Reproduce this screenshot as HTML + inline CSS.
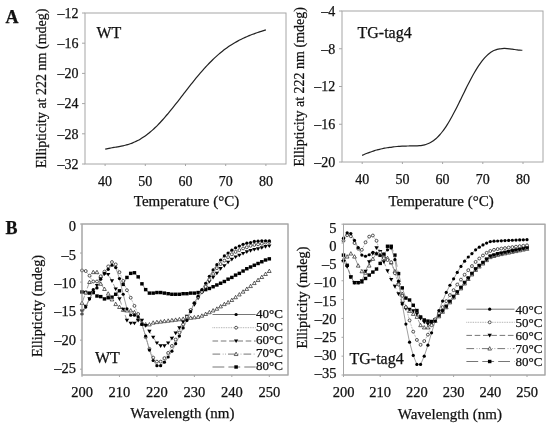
<!DOCTYPE html>
<html><head><meta charset="utf-8"><style>
html,body{margin:0;padding:0;background:#fff;}
svg{display:block;}
text{font-family:"Liberation Serif","Times New Roman",serif;fill:#111;stroke:#111;stroke-width:0.25px;}
.tk{font-size:14px;}
.tk2{font-size:14.5px;}
.lg{font-size:13px;}
.lb{font-size:16px;}
.ax{font-size:15px;}
.ay{font-size:14px;}
.ay2{font-size:14.3px;}
.pl{font-size:18px;font-weight:bold;}
</style></head><body>
<svg width="550" height="426" viewBox="0 0 550 426">
<rect x="85" y="13" width="201" height="151" fill="none" stroke="#a6a6a6" stroke-width="1"/>
<line x1="82" y1="13" x2="85" y2="13" stroke="#a6a6a6"/>
<text x="78.5" y="17.8" class="tk" text-anchor="end">–12</text>
<line x1="82" y1="43.2" x2="85" y2="43.2" stroke="#a6a6a6"/>
<text x="78.5" y="48" class="tk" text-anchor="end">–16</text>
<line x1="82" y1="73.4" x2="85" y2="73.4" stroke="#a6a6a6"/>
<text x="78.5" y="78.2" class="tk" text-anchor="end">–20</text>
<line x1="82" y1="103.6" x2="85" y2="103.6" stroke="#a6a6a6"/>
<text x="78.5" y="108.4" class="tk" text-anchor="end">–24</text>
<line x1="82" y1="133.8" x2="85" y2="133.8" stroke="#a6a6a6"/>
<text x="78.5" y="138.6" class="tk" text-anchor="end">–28</text>
<line x1="82" y1="164" x2="85" y2="164" stroke="#a6a6a6"/>
<text x="78.5" y="168.8" class="tk" text-anchor="end">–32</text>
<line x1="105.1" y1="164" x2="105.1" y2="166" stroke="#a6a6a6"/>
<text x="105.1" y="185.5" class="tk" text-anchor="middle">40</text>
<line x1="145.3" y1="164" x2="145.3" y2="166" stroke="#a6a6a6"/>
<text x="145.3" y="185.5" class="tk" text-anchor="middle">50</text>
<line x1="185.5" y1="164" x2="185.5" y2="166" stroke="#a6a6a6"/>
<text x="185.5" y="185.5" class="tk" text-anchor="middle">60</text>
<line x1="225.7" y1="164" x2="225.7" y2="166" stroke="#a6a6a6"/>
<text x="225.7" y="185.5" class="tk" text-anchor="middle">70</text>
<line x1="265.9" y1="164" x2="265.9" y2="166" stroke="#a6a6a6"/>
<text x="265.9" y="185.5" class="tk" text-anchor="middle">80</text>
<path d="M105.2 149.18C105.62 149.08 106.87 148.78 107.7 148.6C108.53 148.42 109.37 148.25 110.2 148.1C111.03 147.94 111.87 147.81 112.7 147.67C113.53 147.53 114.37 147.39 115.2 147.25C116.03 147.11 116.87 146.98 117.7 146.83C118.53 146.68 119.37 146.53 120.2 146.37C121.03 146.21 121.87 146.03 122.7 145.85C123.53 145.66 124.37 145.47 125.2 145.26C126.03 145.05 126.87 144.82 127.7 144.57C128.53 144.32 129.37 144.05 130.2 143.76C131.03 143.47 131.87 143.17 132.7 142.83C133.53 142.5 134.37 142.13 135.2 141.75C136.03 141.37 136.87 140.96 137.7 140.53C138.53 140.1 139.37 139.64 140.2 139.15C141.03 138.66 141.87 138.15 142.7 137.61C143.53 137.07 144.37 136.5 145.2 135.91C146.03 135.32 146.87 134.7 147.7 134.05C148.53 133.4 149.37 132.73 150.2 132.03C151.03 131.33 151.87 130.61 152.7 129.86C153.53 129.11 154.37 128.33 155.2 127.53C156.03 126.73 156.87 125.91 157.7 125.07C158.53 124.23 159.37 123.36 160.2 122.47C161.03 121.58 161.87 120.67 162.7 119.75C163.53 118.83 164.37 117.88 165.2 116.92C166.03 115.96 166.87 114.98 167.7 113.99C168.53 113 169.37 112 170.2 110.98C171.03 109.96 171.87 108.93 172.7 107.89C173.53 106.85 174.37 105.8 175.2 104.74C176.03 103.68 176.87 102.62 177.7 101.55C178.53 100.48 179.37 99.41 180.2 98.33C181.03 97.25 181.87 96.17 182.7 95.09C183.53 94.01 184.37 92.94 185.2 91.86C186.03 90.78 186.87 89.7 187.7 88.63C188.53 87.56 189.37 86.5 190.2 85.44C191.03 84.38 191.87 83.32 192.7 82.28C193.53 81.24 194.37 80.2 195.2 79.18C196.03 78.16 196.87 77.14 197.7 76.14C198.53 75.14 199.37 74.14 200.2 73.17C201.03 72.2 201.87 71.24 202.7 70.29C203.53 69.34 204.37 68.41 205.2 67.49C206.03 66.57 206.87 65.68 207.7 64.8C208.53 63.92 209.37 63.05 210.2 62.21C211.03 61.37 211.87 60.55 212.7 59.74C213.53 58.93 214.37 58.14 215.2 57.37C216.03 56.6 216.87 55.85 217.7 55.12C218.53 54.39 219.37 53.68 220.2 52.99C221.03 52.3 221.87 51.62 222.7 50.97C223.53 50.32 224.37 49.69 225.2 49.07C226.03 48.45 226.87 47.85 227.7 47.27C228.53 46.69 229.37 46.14 230.2 45.59C231.03 45.05 231.87 44.51 232.7 44C233.53 43.49 234.37 42.99 235.2 42.51C236.03 42.03 236.87 41.57 237.7 41.12C238.53 40.67 239.37 40.22 240.2 39.8C241.03 39.38 241.87 38.97 242.7 38.57C243.53 38.17 244.37 37.78 245.2 37.4C246.03 37.02 246.87 36.66 247.7 36.3C248.53 35.94 249.37 35.6 250.2 35.26C251.03 34.92 251.87 34.59 252.7 34.27C253.53 33.95 254.37 33.63 255.2 33.33C256.03 33.03 256.87 32.74 257.7 32.45C258.53 32.16 259.37 31.88 260.2 31.61C261.03 31.34 261.87 31.08 262.7 30.83C263.53 30.58 264.67 30.26 265.2 30.11C265.73 29.96 265.78 29.95 265.9 29.92" fill="none" stroke="#222" stroke-width="1.2"/>
<text x="96.5" y="37.5" class="lb">WT</text>
<text x="186.5" y="205.8" class="ax" text-anchor="middle">Temperature (°C)</text>
<text transform="translate(45.8,168) rotate(-90)" class="ay">Ellipticity at 222 nm (mdeg)</text>
<text x="5.5" y="23.3" class="pl">A</text>
<rect x="342" y="11" width="201" height="151" fill="none" stroke="#a6a6a6" stroke-width="1"/>
<line x1="339" y1="11" x2="342" y2="11" stroke="#a6a6a6"/>
<text x="335.2" y="15.8" class="tk" text-anchor="end">–4</text>
<line x1="339" y1="48.75" x2="342" y2="48.75" stroke="#a6a6a6"/>
<text x="335.2" y="53.55" class="tk" text-anchor="end">–8</text>
<line x1="339" y1="86.5" x2="342" y2="86.5" stroke="#a6a6a6"/>
<text x="335.2" y="91.3" class="tk" text-anchor="end">–12</text>
<line x1="339" y1="124.25" x2="342" y2="124.25" stroke="#a6a6a6"/>
<text x="335.2" y="129.05" class="tk" text-anchor="end">–16</text>
<line x1="339" y1="162" x2="342" y2="162" stroke="#a6a6a6"/>
<text x="335.2" y="166.8" class="tk" text-anchor="end">–20</text>
<line x1="362.2" y1="162" x2="362.2" y2="164" stroke="#a6a6a6"/>
<text x="362.2" y="183.5" class="tk" text-anchor="middle">40</text>
<line x1="402.4" y1="162" x2="402.4" y2="164" stroke="#a6a6a6"/>
<text x="402.4" y="183.5" class="tk" text-anchor="middle">50</text>
<line x1="442.6" y1="162" x2="442.6" y2="164" stroke="#a6a6a6"/>
<text x="442.6" y="183.5" class="tk" text-anchor="middle">60</text>
<line x1="482.8" y1="162" x2="482.8" y2="164" stroke="#a6a6a6"/>
<text x="482.8" y="183.5" class="tk" text-anchor="middle">70</text>
<line x1="523" y1="162" x2="523" y2="164" stroke="#a6a6a6"/>
<text x="523" y="183.5" class="tk" text-anchor="middle">80</text>
<path d="M362.1 155.4C362.52 155.22 363.77 154.65 364.6 154.29C365.43 153.93 366.27 153.59 367.1 153.26C367.93 152.93 368.77 152.62 369.6 152.32C370.43 152.02 371.27 151.73 372.1 151.45C372.93 151.17 373.77 150.91 374.6 150.66C375.43 150.41 376.27 150.18 377.1 149.95C377.93 149.72 378.77 149.5 379.6 149.3C380.43 149.1 381.27 148.91 382.1 148.73C382.93 148.55 383.77 148.37 384.6 148.21C385.43 148.05 386.27 147.9 387.1 147.76C387.93 147.62 388.77 147.49 389.6 147.37C390.43 147.25 391.27 147.13 392.1 147.03C392.93 146.93 393.77 146.84 394.6 146.75C395.43 146.66 396.27 146.58 397.1 146.51C397.93 146.44 398.77 146.38 399.6 146.32C400.43 146.26 401.27 146.22 402.1 146.18C402.93 146.14 403.77 146.1 404.6 146.07C405.43 146.04 406.27 146.03 407.1 146.01C407.93 145.99 408.77 145.98 409.6 145.97C410.43 145.96 411.27 145.97 412.1 145.97C412.93 145.97 413.77 145.96 414.6 145.95C415.43 145.94 416.27 145.92 417.1 145.88C417.93 145.84 418.77 145.78 419.6 145.7C420.43 145.61 421.27 145.51 422.1 145.37C422.93 145.23 423.77 145.06 424.6 144.84C425.43 144.62 426.27 144.36 427.1 144.05C427.93 143.74 428.77 143.39 429.6 142.97C430.43 142.55 431.27 142.09 432.1 141.55C432.93 141.01 433.77 140.41 434.6 139.75C435.43 139.09 436.27 138.36 437.1 137.56C437.93 136.76 438.77 135.91 439.6 134.98C440.43 134.05 441.27 133.06 442.1 132C442.93 130.94 443.77 129.81 444.6 128.61C445.43 127.41 446.27 126.14 447.1 124.82C447.93 123.5 448.77 122.12 449.6 120.69C450.43 119.26 451.27 117.77 452.1 116.25C452.93 114.73 453.77 113.16 454.6 111.56C455.43 109.96 456.27 108.33 457.1 106.67C457.93 105.02 458.77 103.32 459.6 101.63C460.43 99.94 461.27 98.22 462.1 96.52C462.93 94.81 463.77 93.09 464.6 91.4C465.43 89.71 466.27 88.01 467.1 86.35C467.93 84.69 468.77 83.04 469.6 81.43C470.43 79.82 471.27 78.23 472.1 76.7C472.93 75.17 473.77 73.67 474.6 72.24C475.43 70.8 476.27 69.42 477.1 68.09C477.93 66.77 478.77 65.49 479.6 64.29C480.43 63.09 481.27 61.95 482.1 60.89C482.93 59.83 483.77 58.83 484.6 57.91C485.43 56.99 486.27 56.14 487.1 55.37C487.93 54.6 488.77 53.91 489.6 53.28C490.43 52.65 491.27 52.09 492.1 51.6C492.93 51.11 493.77 50.68 494.6 50.32C495.43 49.96 496.27 49.67 497.1 49.42C497.93 49.17 498.77 48.99 499.6 48.84C500.43 48.69 501.27 48.6 502.1 48.54C502.93 48.48 503.77 48.46 504.6 48.47C505.43 48.48 506.27 48.52 507.1 48.58C507.93 48.64 508.77 48.73 509.6 48.82C510.43 48.91 511.27 49.03 512.1 49.14C512.93 49.25 513.77 49.38 514.6 49.49C515.43 49.61 516.27 49.73 517.1 49.83C517.93 49.93 518.77 50.03 519.6 50.1C520.43 50.17 521.65 50.23 522.1 50.26C522.55 50.29 522.27 50.27 522.3 50.27" fill="none" stroke="#222" stroke-width="1.2"/>
<text x="357.5" y="38.2" class="lb">TG-tag4</text>
<text x="441.1" y="205.5" class="ax" text-anchor="middle">Temperature (°C)</text>
<text transform="translate(303.5,166.5) rotate(-90)" class="ay">Ellipticity at 222 nm (mdeg)</text>
<rect x="82" y="224" width="206" height="151" fill="#fff" stroke="#a6a6a6" stroke-width="1"/>
<line x1="80" y1="224" x2="82" y2="224" stroke="#a6a6a6"/>
<text x="76" y="231.3" class="tk2" text-anchor="end">0</text>
<line x1="80" y1="253.04" x2="82" y2="253.04" stroke="#a6a6a6"/>
<text x="76" y="259.6" class="tk2" text-anchor="end">–5</text>
<line x1="80" y1="282.08" x2="82" y2="282.08" stroke="#a6a6a6"/>
<text x="76" y="287.9" class="tk2" text-anchor="end">–10</text>
<line x1="80" y1="311.12" x2="82" y2="311.12" stroke="#a6a6a6"/>
<text x="76" y="316.2" class="tk2" text-anchor="end">–15</text>
<line x1="80" y1="340.15" x2="82" y2="340.15" stroke="#a6a6a6"/>
<text x="76" y="344.5" class="tk2" text-anchor="end">–20</text>
<line x1="80" y1="369.19" x2="82" y2="369.19" stroke="#a6a6a6"/>
<text x="76" y="372.8" class="tk2" text-anchor="end">–25</text>
<line x1="82" y1="375" x2="82" y2="377" stroke="#a6a6a6"/>
<text x="82" y="396.5" class="tk2" text-anchor="middle">200</text>
<line x1="119.46" y1="375" x2="119.46" y2="377" stroke="#a6a6a6"/>
<text x="119.46" y="396.5" class="tk2" text-anchor="middle">210</text>
<line x1="156.92" y1="375" x2="156.92" y2="377" stroke="#a6a6a6"/>
<text x="156.92" y="396.5" class="tk2" text-anchor="middle">220</text>
<line x1="194.38" y1="375" x2="194.38" y2="377" stroke="#a6a6a6"/>
<text x="194.38" y="396.5" class="tk2" text-anchor="middle">230</text>
<line x1="231.84" y1="375" x2="231.84" y2="377" stroke="#a6a6a6"/>
<text x="231.84" y="396.5" class="tk2" text-anchor="middle">240</text>
<line x1="269.3" y1="375" x2="269.3" y2="377" stroke="#a6a6a6"/>
<text x="269.3" y="396.5" class="tk2" text-anchor="middle">250</text>
<path d="M82 291.95 L85.75 292.53 L89.49 293.11 L93.24 292.53 L96.98 296.02 L100.73 296.6 L104.48 298.92 L108.22 297.76 L111.97 297.18 L115.71 294.27 L119.46 290.79 L123.21 284.4 L126.95 277.43 L130.7 273.37 L134.44 272.78 L138.19 276.85 L141.94 283.82 L145.68 289.63 L149.43 293.11 L153.17 293.11 L156.92 292.53 L160.67 292.53 L164.41 293.11 L168.16 293.69 L171.9 294.27 L175.65 294.27 L179.4 294.27 L183.14 293.69 L186.89 293.69 L190.63 293.11 L194.38 293.11 L198.13 292.53 L201.87 291.37 L205.62 289.63 L209.36 288.47 L213.11 286.72 L216.86 284.98 L220.6 283.24 L224.35 281.5 L228.09 279.17 L231.84 277.43 L235.59 275.11 L239.33 273.37 L243.08 271.04 L246.82 268.72 L250.57 266.98 L254.32 265.23 L258.06 263.49 L261.81 261.75 L265.55 260.01 L269.3 258.85" fill="none" stroke="#777" stroke-width="0.7" stroke-dasharray="11.8,4.1"/>
<g><rect x="80.25" y="290.25" width="3.5" height="3.4"/><rect x="84" y="290.83" width="3.5" height="3.4"/><rect x="87.74" y="291.41" width="3.5" height="3.4"/><rect x="91.49" y="290.83" width="3.5" height="3.4"/><rect x="95.23" y="294.32" width="3.5" height="3.4"/><rect x="98.98" y="294.9" width="3.5" height="3.4"/><rect x="102.73" y="297.22" width="3.5" height="3.4"/><rect x="106.47" y="296.06" width="3.5" height="3.4"/><rect x="110.22" y="295.48" width="3.5" height="3.4"/><rect x="113.96" y="292.57" width="3.5" height="3.4"/><rect x="117.71" y="289.09" width="3.5" height="3.4"/><rect x="121.46" y="282.7" width="3.5" height="3.4"/><rect x="125.2" y="275.73" width="3.5" height="3.4"/><rect x="128.95" y="271.67" width="3.5" height="3.4"/><rect x="132.69" y="271.08" width="3.5" height="3.4"/><rect x="136.44" y="275.15" width="3.5" height="3.4"/><rect x="140.19" y="282.12" width="3.5" height="3.4"/><rect x="143.93" y="287.93" width="3.5" height="3.4"/><rect x="147.68" y="291.41" width="3.5" height="3.4"/><rect x="151.42" y="291.41" width="3.5" height="3.4"/><rect x="155.17" y="290.83" width="3.5" height="3.4"/><rect x="158.92" y="290.83" width="3.5" height="3.4"/><rect x="162.66" y="291.41" width="3.5" height="3.4"/><rect x="166.41" y="291.99" width="3.5" height="3.4"/><rect x="170.15" y="292.57" width="3.5" height="3.4"/><rect x="173.9" y="292.57" width="3.5" height="3.4"/><rect x="177.65" y="292.57" width="3.5" height="3.4"/><rect x="181.39" y="291.99" width="3.5" height="3.4"/><rect x="185.14" y="291.99" width="3.5" height="3.4"/><rect x="188.88" y="291.41" width="3.5" height="3.4"/><rect x="192.63" y="291.41" width="3.5" height="3.4"/><rect x="196.38" y="290.83" width="3.5" height="3.4"/><rect x="200.12" y="289.67" width="3.5" height="3.4"/><rect x="203.87" y="287.93" width="3.5" height="3.4"/><rect x="207.61" y="286.77" width="3.5" height="3.4"/><rect x="211.36" y="285.02" width="3.5" height="3.4"/><rect x="215.11" y="283.28" width="3.5" height="3.4"/><rect x="218.85" y="281.54" width="3.5" height="3.4"/><rect x="222.6" y="279.8" width="3.5" height="3.4"/><rect x="226.34" y="277.47" width="3.5" height="3.4"/><rect x="230.09" y="275.73" width="3.5" height="3.4"/><rect x="233.84" y="273.41" width="3.5" height="3.4"/><rect x="237.58" y="271.67" width="3.5" height="3.4"/><rect x="241.33" y="269.34" width="3.5" height="3.4"/><rect x="245.07" y="267.02" width="3.5" height="3.4"/><rect x="248.82" y="265.28" width="3.5" height="3.4"/><rect x="252.57" y="263.53" width="3.5" height="3.4"/><rect x="256.31" y="261.79" width="3.5" height="3.4"/><rect x="260.06" y="260.05" width="3.5" height="3.4"/><rect x="263.8" y="258.31" width="3.5" height="3.4"/><rect x="267.55" y="257.15" width="3.5" height="3.4"/></g>
<path d="M82 302.98 L85.75 292.53 L89.49 282.08 L93.24 272.2 L96.98 272.2 L100.73 283.82 L104.48 289.05 L108.22 293.69 L111.97 299.5 L115.71 304.15 L119.46 307.05 L123.21 309.95 L126.95 310.53 L130.7 310.53 L134.44 312.28 L138.19 318.67 L141.94 323.89 L145.68 324.47 L149.43 324.47 L153.17 322.73 L156.92 322.15 L160.67 321.69 L164.41 321.22 L168.16 320.76 L171.9 320.29 L175.65 319.83 L179.4 319.34 L183.14 318.86 L186.89 318.38 L190.63 317.89 L194.38 317.41 L198.13 316.92 L201.87 315.76 L205.62 314.02 L209.36 312.28 L213.11 310.53 L216.86 308.79 L220.6 306.47 L224.35 304.15 L228.09 302.4 L231.84 300.08 L235.59 297.29 L239.33 294.51 L243.08 291.72 L246.82 288.93 L250.57 286.14 L254.32 283.12 L258.06 280.1 L261.81 277.08 L265.55 274.06 L269.3 271.04" fill="none" stroke="#777" stroke-width="0.7" stroke-dasharray="7.7,2.6,0.6,1.8,0.6,2.2"/>
<g><path d="M80.15 304.43H83.85L82 301.03Z" fill="#fff" stroke="#111" stroke-width="0.65"/><path d="M83.9 293.98H87.6L85.75 290.58Z" fill="#fff" stroke="#111" stroke-width="0.65"/><path d="M87.64 283.53H91.34L89.49 280.13Z" fill="#fff" stroke="#111" stroke-width="0.65"/><path d="M91.39 273.65H95.09L93.24 270.25Z" fill="#fff" stroke="#111" stroke-width="0.65"/><path d="M95.13 273.65H98.83L96.98 270.25Z" fill="#fff" stroke="#111" stroke-width="0.65"/><path d="M98.88 285.27H102.58L100.73 281.87Z" fill="#fff" stroke="#111" stroke-width="0.65"/><path d="M102.63 290.5H106.33L104.48 287.1Z" fill="#fff" stroke="#111" stroke-width="0.65"/><path d="M106.37 295.14H110.07L108.22 291.74Z" fill="#fff" stroke="#111" stroke-width="0.65"/><path d="M110.12 300.95H113.82L111.97 297.55Z" fill="#fff" stroke="#111" stroke-width="0.65"/><path d="M113.86 305.6H117.56L115.71 302.2Z" fill="#fff" stroke="#111" stroke-width="0.65"/><path d="M117.61 308.5H121.31L119.46 305.1Z" fill="#fff" stroke="#111" stroke-width="0.65"/><path d="M121.36 311.4H125.06L123.21 308Z" fill="#fff" stroke="#111" stroke-width="0.65"/><path d="M125.1 311.98H128.8L126.95 308.58Z" fill="#fff" stroke="#111" stroke-width="0.65"/><path d="M128.85 311.98H132.55L130.7 308.58Z" fill="#fff" stroke="#111" stroke-width="0.65"/><path d="M132.59 313.73H136.29L134.44 310.33Z" fill="#fff" stroke="#111" stroke-width="0.65"/><path d="M136.34 320.12H140.04L138.19 316.72Z" fill="#fff" stroke="#111" stroke-width="0.65"/><path d="M140.09 325.34H143.79L141.94 321.94Z" fill="#fff" stroke="#111" stroke-width="0.65"/><path d="M143.83 325.92H147.53L145.68 322.52Z" fill="#fff" stroke="#111" stroke-width="0.65"/><path d="M147.58 325.92H151.28L149.43 322.52Z" fill="#fff" stroke="#111" stroke-width="0.65"/><path d="M151.32 324.18H155.02L153.17 320.78Z" fill="#fff" stroke="#111" stroke-width="0.65"/><path d="M155.07 323.6H158.77L156.92 320.2Z" fill="#fff" stroke="#111" stroke-width="0.65"/><path d="M158.82 323.14H162.52L160.67 319.74Z" fill="#fff" stroke="#111" stroke-width="0.65"/><path d="M162.56 322.67H166.26L164.41 319.27Z" fill="#fff" stroke="#111" stroke-width="0.65"/><path d="M166.31 322.21H170.01L168.16 318.81Z" fill="#fff" stroke="#111" stroke-width="0.65"/><path d="M170.05 321.74H173.75L171.9 318.34Z" fill="#fff" stroke="#111" stroke-width="0.65"/><path d="M173.8 321.28H177.5L175.65 317.88Z" fill="#fff" stroke="#111" stroke-width="0.65"/><path d="M177.55 320.79H181.25L179.4 317.39Z" fill="#fff" stroke="#111" stroke-width="0.65"/><path d="M181.29 320.31H184.99L183.14 316.91Z" fill="#fff" stroke="#111" stroke-width="0.65"/><path d="M185.04 319.82H188.74L186.89 316.43Z" fill="#fff" stroke="#111" stroke-width="0.65"/><path d="M188.78 319.34H192.48L190.63 315.94Z" fill="#fff" stroke="#111" stroke-width="0.65"/><path d="M192.53 318.86H196.23L194.38 315.46Z" fill="#fff" stroke="#111" stroke-width="0.65"/><path d="M196.28 318.37H199.98L198.13 314.97Z" fill="#fff" stroke="#111" stroke-width="0.65"/><path d="M200.02 317.21H203.72L201.87 313.81Z" fill="#fff" stroke="#111" stroke-width="0.65"/><path d="M203.77 315.47H207.47L205.62 312.07Z" fill="#fff" stroke="#111" stroke-width="0.65"/><path d="M207.51 313.73H211.21L209.36 310.33Z" fill="#fff" stroke="#111" stroke-width="0.65"/><path d="M211.26 311.98H214.96L213.11 308.58Z" fill="#fff" stroke="#111" stroke-width="0.65"/><path d="M215.01 310.24H218.71L216.86 306.84Z" fill="#fff" stroke="#111" stroke-width="0.65"/><path d="M218.75 307.92H222.45L220.6 304.52Z" fill="#fff" stroke="#111" stroke-width="0.65"/><path d="M222.5 305.6H226.2L224.35 302.2Z" fill="#fff" stroke="#111" stroke-width="0.65"/><path d="M226.24 303.85H229.94L228.09 300.45Z" fill="#fff" stroke="#111" stroke-width="0.65"/><path d="M229.99 301.53H233.69L231.84 298.13Z" fill="#fff" stroke="#111" stroke-width="0.65"/><path d="M233.74 298.74H237.44L235.59 295.34Z" fill="#fff" stroke="#111" stroke-width="0.65"/><path d="M237.48 295.96H241.18L239.33 292.56Z" fill="#fff" stroke="#111" stroke-width="0.65"/><path d="M241.23 293.17H244.93L243.08 289.77Z" fill="#fff" stroke="#111" stroke-width="0.65"/><path d="M244.97 290.38H248.67L246.82 286.98Z" fill="#fff" stroke="#111" stroke-width="0.65"/><path d="M248.72 287.59H252.42L250.57 284.19Z" fill="#fff" stroke="#111" stroke-width="0.65"/><path d="M252.47 284.57H256.17L254.32 281.17Z" fill="#fff" stroke="#111" stroke-width="0.65"/><path d="M256.21 281.55H259.91L258.06 278.15Z" fill="#fff" stroke="#111" stroke-width="0.65"/><path d="M259.96 278.53H263.66L261.81 275.13Z" fill="#fff" stroke="#111" stroke-width="0.65"/><path d="M263.7 275.51H267.4L265.55 272.11Z" fill="#fff" stroke="#111" stroke-width="0.65"/><path d="M267.45 272.49H271.15L269.3 269.09Z" fill="#fff" stroke="#111" stroke-width="0.65"/></g>
<path d="M82 311.12 L85.75 306.47 L89.49 298.92 L93.24 292.53 L96.98 285.56 L100.73 278.59 L104.48 273.95 L108.22 274.53 L111.97 280.92 L115.71 289.05 L119.46 298.92 L123.21 309.37 L126.95 320.41 L130.7 323.31 L134.44 323.31 L138.19 320.41 L141.94 320.41 L145.68 325.63 L149.43 331.44 L153.17 337.25 L156.92 343.06 L160.67 345.96 L164.41 345.96 L168.16 343.06 L171.9 338.41 L175.65 333.18 L179.4 327.96 L183.14 322.15 L186.89 316.34 L190.63 310.53 L194.38 304.73 L198.13 298.34 L201.87 292.53 L205.62 287.3 L209.36 281.5 L213.11 277.43 L216.86 273.37 L220.6 268.72 L224.35 265.82 L228.09 262.33 L231.84 259.43 L235.59 257.1 L239.33 255.36 L243.08 253.62 L246.82 251.88 L250.57 250.72 L254.32 249.55 L258.06 248.97 L261.81 247.81 L265.55 246.65 L269.3 246.07" fill="none" stroke="#777" stroke-width="0.7" stroke-dasharray="5.6,2.7"/>
<g><path d="M79.85 309.52H84.15L82 313.12Z"/><path d="M83.6 304.87H87.9L85.75 308.47Z"/><path d="M87.34 297.32H91.64L89.49 300.92Z"/><path d="M91.09 290.93H95.39L93.24 294.53Z"/><path d="M94.83 283.96H99.13L96.98 287.56Z"/><path d="M98.58 276.99H102.88L100.73 280.59Z"/><path d="M102.33 272.35H106.63L104.48 275.95Z"/><path d="M106.07 272.93H110.37L108.22 276.53Z"/><path d="M109.82 279.32H114.12L111.97 282.92Z"/><path d="M113.56 287.45H117.86L115.71 291.05Z"/><path d="M117.31 297.32H121.61L119.46 300.92Z"/><path d="M121.06 307.77H125.36L123.21 311.37Z"/><path d="M124.8 318.81H129.1L126.95 322.41Z"/><path d="M128.55 321.71H132.85L130.7 325.31Z"/><path d="M132.29 321.71H136.59L134.44 325.31Z"/><path d="M136.04 318.81H140.34L138.19 322.41Z"/><path d="M139.79 318.81H144.09L141.94 322.41Z"/><path d="M143.53 324.03H147.83L145.68 327.63Z"/><path d="M147.28 329.84H151.58L149.43 333.44Z"/><path d="M151.02 335.65H155.32L153.17 339.25Z"/><path d="M154.77 341.46H159.07L156.92 345.06Z"/><path d="M158.52 344.36H162.82L160.67 347.96Z"/><path d="M162.26 344.36H166.56L164.41 347.96Z"/><path d="M166.01 341.46H170.31L168.16 345.06Z"/><path d="M169.75 336.81H174.05L171.9 340.41Z"/><path d="M173.5 331.58H177.8L175.65 335.18Z"/><path d="M177.25 326.36H181.55L179.4 329.96Z"/><path d="M180.99 320.55H185.29L183.14 324.15Z"/><path d="M184.74 314.74H189.04L186.89 318.34Z"/><path d="M188.48 308.93H192.78L190.63 312.53Z"/><path d="M192.23 303.13H196.53L194.38 306.73Z"/><path d="M195.98 296.74H200.28L198.13 300.34Z"/><path d="M199.72 290.93H204.02L201.87 294.53Z"/><path d="M203.47 285.7H207.77L205.62 289.3Z"/><path d="M207.21 279.9H211.51L209.36 283.5Z"/><path d="M210.96 275.83H215.26L213.11 279.43Z"/><path d="M214.71 271.77H219.01L216.86 275.37Z"/><path d="M218.45 267.12H222.75L220.6 270.72Z"/><path d="M222.2 264.22H226.5L224.35 267.82Z"/><path d="M225.94 260.73H230.24L228.09 264.33Z"/><path d="M229.69 257.83H233.99L231.84 261.43Z"/><path d="M233.44 255.5H237.74L235.59 259.1Z"/><path d="M237.18 253.76H241.48L239.33 257.36Z"/><path d="M240.93 252.02H245.23L243.08 255.62Z"/><path d="M244.67 250.28H248.97L246.82 253.88Z"/><path d="M248.42 249.12H252.72L250.57 252.72Z"/><path d="M252.17 247.95H256.47L254.32 251.55Z"/><path d="M255.91 247.37H260.21L258.06 250.97Z"/><path d="M259.66 246.21H263.96L261.81 249.81Z"/><path d="M263.4 245.05H267.7L265.55 248.65Z"/><path d="M267.15 244.47H271.45L269.3 248.07Z"/></g>
<path d="M82 270.46 L85.75 271.04 L89.49 275.69 L93.24 281.5 L96.98 281.5 L100.73 276.27 L104.48 271.62 L108.22 266.4 L111.97 262.04 L115.71 264.36 L119.46 272.2 L123.21 280.92 L126.95 290.21 L130.7 297.76 L134.44 305.89 L138.19 314.02 L141.94 323.89 L145.68 337.25 L149.43 348.87 L153.17 357.58 L156.92 361.64 L160.67 361.64 L164.41 358.16 L168.16 352.93 L171.9 345.96 L175.65 339.57 L179.4 332.6 L183.14 324.47 L186.89 316.92 L190.63 309.95 L194.38 302.98 L198.13 297.18 L201.87 291.95 L205.62 286.72 L209.36 279.75 L213.11 273.95 L216.86 268.14 L220.6 264.07 L224.35 260.59 L228.09 257.1 L231.84 254.2 L235.59 251.88 L239.33 250.13 L243.08 248.39 L246.82 247.23 L250.57 245.78 L254.32 244.91 L258.06 244.33 L261.81 243.75 L265.55 242.58 L269.3 242" fill="none" stroke="#777" stroke-width="0.7" stroke-dasharray="0.8,0.9"/>
<g><circle cx="82" cy="270.46" r="1.45" fill="#fff" stroke="#111" stroke-width="0.7"/><circle cx="85.75" cy="271.04" r="1.45" fill="#fff" stroke="#111" stroke-width="0.7"/><circle cx="89.49" cy="275.69" r="1.45" fill="#fff" stroke="#111" stroke-width="0.7"/><circle cx="93.24" cy="281.5" r="1.45" fill="#fff" stroke="#111" stroke-width="0.7"/><circle cx="96.98" cy="281.5" r="1.45" fill="#fff" stroke="#111" stroke-width="0.7"/><circle cx="100.73" cy="276.27" r="1.45" fill="#fff" stroke="#111" stroke-width="0.7"/><circle cx="104.48" cy="271.62" r="1.45" fill="#fff" stroke="#111" stroke-width="0.7"/><circle cx="108.22" cy="266.4" r="1.45" fill="#fff" stroke="#111" stroke-width="0.7"/><circle cx="111.97" cy="262.04" r="1.45" fill="#fff" stroke="#111" stroke-width="0.7"/><circle cx="115.71" cy="264.36" r="1.45" fill="#fff" stroke="#111" stroke-width="0.7"/><circle cx="119.46" cy="272.2" r="1.45" fill="#fff" stroke="#111" stroke-width="0.7"/><circle cx="123.21" cy="280.92" r="1.45" fill="#fff" stroke="#111" stroke-width="0.7"/><circle cx="126.95" cy="290.21" r="1.45" fill="#fff" stroke="#111" stroke-width="0.7"/><circle cx="130.7" cy="297.76" r="1.45" fill="#fff" stroke="#111" stroke-width="0.7"/><circle cx="134.44" cy="305.89" r="1.45" fill="#fff" stroke="#111" stroke-width="0.7"/><circle cx="138.19" cy="314.02" r="1.45" fill="#fff" stroke="#111" stroke-width="0.7"/><circle cx="141.94" cy="323.89" r="1.45" fill="#fff" stroke="#111" stroke-width="0.7"/><circle cx="145.68" cy="337.25" r="1.45" fill="#fff" stroke="#111" stroke-width="0.7"/><circle cx="149.43" cy="348.87" r="1.45" fill="#fff" stroke="#111" stroke-width="0.7"/><circle cx="153.17" cy="357.58" r="1.45" fill="#fff" stroke="#111" stroke-width="0.7"/><circle cx="156.92" cy="361.64" r="1.45" fill="#fff" stroke="#111" stroke-width="0.7"/><circle cx="160.67" cy="361.64" r="1.45" fill="#fff" stroke="#111" stroke-width="0.7"/><circle cx="164.41" cy="358.16" r="1.45" fill="#fff" stroke="#111" stroke-width="0.7"/><circle cx="168.16" cy="352.93" r="1.45" fill="#fff" stroke="#111" stroke-width="0.7"/><circle cx="171.9" cy="345.96" r="1.45" fill="#fff" stroke="#111" stroke-width="0.7"/><circle cx="175.65" cy="339.57" r="1.45" fill="#fff" stroke="#111" stroke-width="0.7"/><circle cx="179.4" cy="332.6" r="1.45" fill="#fff" stroke="#111" stroke-width="0.7"/><circle cx="183.14" cy="324.47" r="1.45" fill="#fff" stroke="#111" stroke-width="0.7"/><circle cx="186.89" cy="316.92" r="1.45" fill="#fff" stroke="#111" stroke-width="0.7"/><circle cx="190.63" cy="309.95" r="1.45" fill="#fff" stroke="#111" stroke-width="0.7"/><circle cx="194.38" cy="302.98" r="1.45" fill="#fff" stroke="#111" stroke-width="0.7"/><circle cx="198.13" cy="297.18" r="1.45" fill="#fff" stroke="#111" stroke-width="0.7"/><circle cx="201.87" cy="291.95" r="1.45" fill="#fff" stroke="#111" stroke-width="0.7"/><circle cx="205.62" cy="286.72" r="1.45" fill="#fff" stroke="#111" stroke-width="0.7"/><circle cx="209.36" cy="279.75" r="1.45" fill="#fff" stroke="#111" stroke-width="0.7"/><circle cx="213.11" cy="273.95" r="1.45" fill="#fff" stroke="#111" stroke-width="0.7"/><circle cx="216.86" cy="268.14" r="1.45" fill="#fff" stroke="#111" stroke-width="0.7"/><circle cx="220.6" cy="264.07" r="1.45" fill="#fff" stroke="#111" stroke-width="0.7"/><circle cx="224.35" cy="260.59" r="1.45" fill="#fff" stroke="#111" stroke-width="0.7"/><circle cx="228.09" cy="257.1" r="1.45" fill="#fff" stroke="#111" stroke-width="0.7"/><circle cx="231.84" cy="254.2" r="1.45" fill="#fff" stroke="#111" stroke-width="0.7"/><circle cx="235.59" cy="251.88" r="1.45" fill="#fff" stroke="#111" stroke-width="0.7"/><circle cx="239.33" cy="250.13" r="1.45" fill="#fff" stroke="#111" stroke-width="0.7"/><circle cx="243.08" cy="248.39" r="1.45" fill="#fff" stroke="#111" stroke-width="0.7"/><circle cx="246.82" cy="247.23" r="1.45" fill="#fff" stroke="#111" stroke-width="0.7"/><circle cx="250.57" cy="245.78" r="1.45" fill="#fff" stroke="#111" stroke-width="0.7"/><circle cx="254.32" cy="244.91" r="1.45" fill="#fff" stroke="#111" stroke-width="0.7"/><circle cx="258.06" cy="244.33" r="1.45" fill="#fff" stroke="#111" stroke-width="0.7"/><circle cx="261.81" cy="243.75" r="1.45" fill="#fff" stroke="#111" stroke-width="0.7"/><circle cx="265.55" cy="242.58" r="1.45" fill="#fff" stroke="#111" stroke-width="0.7"/><circle cx="269.3" cy="242" r="1.45" fill="#fff" stroke="#111" stroke-width="0.7"/></g>
<path d="M82 314.02 L85.75 307.05 L89.49 298.92 L93.24 289.63 L96.98 287.88 L100.73 279.17 L104.48 273.37 L108.22 269.3 L111.97 265.23 L115.71 267.56 L119.46 278.59 L123.21 294.27 L126.95 308.79 L130.7 315.18 L134.44 315.18 L138.19 316.92 L141.94 324.47 L145.68 336.09 L149.43 350.03 L153.17 360.48 L156.92 365.71 L160.67 365.71 L164.41 362.22 L168.16 357 L171.9 351.19 L175.65 343.64 L179.4 336.09 L183.14 327.96 L186.89 320.41 L190.63 311.7 L194.38 302.98 L198.13 296.02 L201.87 289.63 L205.62 283.24 L209.36 276.27 L213.11 269.88 L216.86 264.65 L220.6 260.01 L224.35 255.94 L228.09 253.04 L231.84 250.13 L235.59 247.81 L239.33 246.07 L243.08 244.33 L246.82 243.17 L250.57 242.58 L254.32 241.42 L258.06 241.19 L261.81 240.84 L265.55 240.84 L269.3 240.84" fill="none" stroke="#777" stroke-width="0.7"/>
<g><circle cx="82" cy="314.02" r="1.6"/><circle cx="85.75" cy="307.05" r="1.6"/><circle cx="89.49" cy="298.92" r="1.6"/><circle cx="93.24" cy="289.63" r="1.6"/><circle cx="96.98" cy="287.88" r="1.6"/><circle cx="100.73" cy="279.17" r="1.6"/><circle cx="104.48" cy="273.37" r="1.6"/><circle cx="108.22" cy="269.3" r="1.6"/><circle cx="111.97" cy="265.23" r="1.6"/><circle cx="115.71" cy="267.56" r="1.6"/><circle cx="119.46" cy="278.59" r="1.6"/><circle cx="123.21" cy="294.27" r="1.6"/><circle cx="126.95" cy="308.79" r="1.6"/><circle cx="130.7" cy="315.18" r="1.6"/><circle cx="134.44" cy="315.18" r="1.6"/><circle cx="138.19" cy="316.92" r="1.6"/><circle cx="141.94" cy="324.47" r="1.6"/><circle cx="145.68" cy="336.09" r="1.6"/><circle cx="149.43" cy="350.03" r="1.6"/><circle cx="153.17" cy="360.48" r="1.6"/><circle cx="156.92" cy="365.71" r="1.6"/><circle cx="160.67" cy="365.71" r="1.6"/><circle cx="164.41" cy="362.22" r="1.6"/><circle cx="168.16" cy="357" r="1.6"/><circle cx="171.9" cy="351.19" r="1.6"/><circle cx="175.65" cy="343.64" r="1.6"/><circle cx="179.4" cy="336.09" r="1.6"/><circle cx="183.14" cy="327.96" r="1.6"/><circle cx="186.89" cy="320.41" r="1.6"/><circle cx="190.63" cy="311.7" r="1.6"/><circle cx="194.38" cy="302.98" r="1.6"/><circle cx="198.13" cy="296.02" r="1.6"/><circle cx="201.87" cy="289.63" r="1.6"/><circle cx="205.62" cy="283.24" r="1.6"/><circle cx="209.36" cy="276.27" r="1.6"/><circle cx="213.11" cy="269.88" r="1.6"/><circle cx="216.86" cy="264.65" r="1.6"/><circle cx="220.6" cy="260.01" r="1.6"/><circle cx="224.35" cy="255.94" r="1.6"/><circle cx="228.09" cy="253.04" r="1.6"/><circle cx="231.84" cy="250.13" r="1.6"/><circle cx="235.59" cy="247.81" r="1.6"/><circle cx="239.33" cy="246.07" r="1.6"/><circle cx="243.08" cy="244.33" r="1.6"/><circle cx="246.82" cy="243.17" r="1.6"/><circle cx="250.57" cy="242.58" r="1.6"/><circle cx="254.32" cy="241.42" r="1.6"/><circle cx="258.06" cy="241.19" r="1.6"/><circle cx="261.81" cy="240.84" r="1.6"/><circle cx="265.55" cy="240.84" r="1.6"/><circle cx="269.3" cy="240.84" r="1.6"/></g>
<rect x="82" y="224" width="206" height="151" fill="none" stroke="#a6a6a6" stroke-width="1"/>
<line x1="212.5" y1="314.5" x2="255.7" y2="314.5" stroke="#666" stroke-width="0.9"/>
<circle cx="236.1" cy="314.5" r="1.6"/>
<text x="256" y="317.8" class="lg">40°C</text>
<line x1="212.5" y1="327.7" x2="255.7" y2="327.7" stroke="#999" stroke-width="0.9" stroke-dasharray="0.8,0.9"/>
<circle cx="236.1" cy="327.7" r="1.45" fill="#fff" stroke="#111" stroke-width="0.7"/>
<text x="256" y="331" class="lg">50°C</text>
<line x1="212.5" y1="341.0" x2="255.7" y2="341.0" stroke="#666" stroke-width="0.9" stroke-dasharray="5.6,2.7"/>
<path d="M233.95 339.4H238.25L236.1 343Z"/>
<text x="256" y="344.3" class="lg">60°C</text>
<line x1="212.5" y1="354.1" x2="255.7" y2="354.1" stroke="#666" stroke-width="0.9" stroke-dasharray="7.7,2.6,0.6,1.8,0.6,2.2"/>
<path d="M234.25 355.55H237.95L236.1 352.15Z" fill="#fff" stroke="#111" stroke-width="0.65"/>
<text x="256" y="357.4" class="lg">70°C</text>
<line x1="212.5" y1="367.0" x2="255.7" y2="367.0" stroke="#666" stroke-width="0.9" stroke-dasharray="11.8,4.1"/>
<rect x="234.35" y="365.3" width="3.5" height="3.4"/>
<text x="256" y="370.3" class="lg">80°C</text>
<text x="95" y="363" class="lb">WT</text>
<text x="182.3" y="418" class="ax" text-anchor="middle">Wavelength (nm)</text>
<text transform="translate(41.7,357) rotate(-90)" class="ay2">Ellipticity (mdeg)</text>
<text x="5.5" y="233.5" class="pl">B</text>
<rect x="343.5" y="224.2" width="201.5" height="150.8" fill="#fff" stroke="#a6a6a6" stroke-width="1"/>
<line x1="341.5" y1="224.2" x2="343.5" y2="224.2" stroke="#a6a6a6"/>
<text x="336.5" y="233.1" class="tk2" text-anchor="end">5</text>
<line x1="341.5" y1="243.05" x2="343.5" y2="243.05" stroke="#a6a6a6"/>
<text x="336.5" y="251.22" class="tk2" text-anchor="end">0</text>
<line x1="341.5" y1="261.9" x2="343.5" y2="261.9" stroke="#a6a6a6"/>
<text x="336.5" y="269.34" class="tk2" text-anchor="end">–5</text>
<line x1="341.5" y1="280.75" x2="343.5" y2="280.75" stroke="#a6a6a6"/>
<text x="336.5" y="287.46" class="tk2" text-anchor="end">–10</text>
<line x1="341.5" y1="299.6" x2="343.5" y2="299.6" stroke="#a6a6a6"/>
<text x="336.5" y="305.58" class="tk2" text-anchor="end">–15</text>
<line x1="341.5" y1="318.45" x2="343.5" y2="318.45" stroke="#a6a6a6"/>
<text x="336.5" y="323.7" class="tk2" text-anchor="end">–20</text>
<line x1="341.5" y1="337.3" x2="343.5" y2="337.3" stroke="#a6a6a6"/>
<text x="336.5" y="341.82" class="tk2" text-anchor="end">–25</text>
<line x1="341.5" y1="356.15" x2="343.5" y2="356.15" stroke="#a6a6a6"/>
<text x="336.5" y="359.94" class="tk2" text-anchor="end">–30</text>
<line x1="341.5" y1="375" x2="343.5" y2="375" stroke="#a6a6a6"/>
<text x="336.5" y="378.06" class="tk2" text-anchor="end">–35</text>
<line x1="343.5" y1="375" x2="343.5" y2="377" stroke="#a6a6a6"/>
<text x="343.5" y="397.3" class="tk2" text-anchor="middle">200</text>
<line x1="380.2" y1="375" x2="380.2" y2="377" stroke="#a6a6a6"/>
<text x="380.2" y="397.3" class="tk2" text-anchor="middle">210</text>
<line x1="416.9" y1="375" x2="416.9" y2="377" stroke="#a6a6a6"/>
<text x="416.9" y="397.3" class="tk2" text-anchor="middle">220</text>
<line x1="453.6" y1="375" x2="453.6" y2="377" stroke="#a6a6a6"/>
<text x="453.6" y="397.3" class="tk2" text-anchor="middle">230</text>
<line x1="490.3" y1="375" x2="490.3" y2="377" stroke="#a6a6a6"/>
<text x="490.3" y="397.3" class="tk2" text-anchor="middle">240</text>
<line x1="527" y1="375" x2="527" y2="377" stroke="#a6a6a6"/>
<text x="527" y="397.3" class="tk2" text-anchor="middle">250</text>
<path d="M343.5 255.11 L347.17 265.29 L350.84 276.98 L354.51 282.63 L358.18 282.63 L361.85 281.88 L365.52 278.49 L369.19 275.09 L372.86 272.08 L376.53 269.06 L380.2 263.41 L383.87 254.36 L387.54 246.25 L391.21 246.25 L394.88 255.11 L398.55 273.59 L402.22 287.91 L405.89 298.09 L409.56 299.98 L413.23 305.25 L416.9 310.53 L420.57 316.94 L424.24 319.96 L427.91 321.09 L431.58 321.47 L435.25 319.77 L438.92 315.25 L442.59 310.72 L446.26 306.2 L449.93 301.3 L453.6 296.4 L457.27 291.87 L460.94 287.35 L464.61 282.45 L468.28 277.92 L471.95 273.4 L475.62 268.87 L479.29 265.48 L482.96 262.47 L486.63 259.07 L490.3 256.06 L493.97 254.93 L497.64 253.79 L501.31 253.04 L504.98 252.29 L508.65 251.53 L512.32 250.78 L515.99 250.02 L519.66 249.27 L523.33 248.52 L527 247.76" fill="none" stroke="#777" stroke-width="0.7" stroke-dasharray="11.8,4.1"/>
<g><rect x="341.75" y="253.41" width="3.5" height="3.4"/><rect x="345.42" y="263.59" width="3.5" height="3.4"/><rect x="349.09" y="275.28" width="3.5" height="3.4"/><rect x="352.76" y="280.94" width="3.5" height="3.4"/><rect x="356.43" y="280.94" width="3.5" height="3.4"/><rect x="360.1" y="280.18" width="3.5" height="3.4"/><rect x="363.77" y="276.79" width="3.5" height="3.4"/><rect x="367.44" y="273.39" width="3.5" height="3.4"/><rect x="371.11" y="270.38" width="3.5" height="3.4"/><rect x="374.78" y="267.36" width="3.5" height="3.4"/><rect x="378.45" y="261.71" width="3.5" height="3.4"/><rect x="382.12" y="252.66" width="3.5" height="3.4"/><rect x="385.79" y="244.55" width="3.5" height="3.4"/><rect x="389.46" y="244.55" width="3.5" height="3.4"/><rect x="393.13" y="253.41" width="3.5" height="3.4"/><rect x="396.8" y="271.89" width="3.5" height="3.4"/><rect x="400.47" y="286.21" width="3.5" height="3.4"/><rect x="404.14" y="296.39" width="3.5" height="3.4"/><rect x="407.81" y="298.28" width="3.5" height="3.4"/><rect x="411.48" y="303.56" width="3.5" height="3.4"/><rect x="415.15" y="308.83" width="3.5" height="3.4"/><rect x="418.82" y="315.24" width="3.5" height="3.4"/><rect x="422.49" y="318.26" width="3.5" height="3.4"/><rect x="426.16" y="319.39" width="3.5" height="3.4"/><rect x="429.83" y="319.77" width="3.5" height="3.4"/><rect x="433.5" y="318.07" width="3.5" height="3.4"/><rect x="437.17" y="313.55" width="3.5" height="3.4"/><rect x="440.84" y="309.02" width="3.5" height="3.4"/><rect x="444.51" y="304.5" width="3.5" height="3.4"/><rect x="448.18" y="299.6" width="3.5" height="3.4"/><rect x="451.85" y="294.7" width="3.5" height="3.4"/><rect x="455.52" y="290.17" width="3.5" height="3.4"/><rect x="459.19" y="285.65" width="3.5" height="3.4"/><rect x="462.86" y="280.75" width="3.5" height="3.4"/><rect x="466.53" y="276.22" width="3.5" height="3.4"/><rect x="470.2" y="271.7" width="3.5" height="3.4"/><rect x="473.87" y="267.17" width="3.5" height="3.4"/><rect x="477.54" y="263.78" width="3.5" height="3.4"/><rect x="481.21" y="260.77" width="3.5" height="3.4"/><rect x="484.88" y="257.37" width="3.5" height="3.4"/><rect x="488.55" y="254.36" width="3.5" height="3.4"/><rect x="492.22" y="253.23" width="3.5" height="3.4"/><rect x="495.89" y="252.09" width="3.5" height="3.4"/><rect x="499.56" y="251.34" width="3.5" height="3.4"/><rect x="503.23" y="250.59" width="3.5" height="3.4"/><rect x="506.9" y="249.83" width="3.5" height="3.4"/><rect x="510.57" y="249.08" width="3.5" height="3.4"/><rect x="514.24" y="248.32" width="3.5" height="3.4"/><rect x="517.91" y="247.57" width="3.5" height="3.4"/><rect x="521.58" y="246.82" width="3.5" height="3.4"/><rect x="525.25" y="246.06" width="3.5" height="3.4"/></g>
<path d="M343.5 259.64 L347.17 256.62 L350.84 253.61 L354.51 256.62 L358.18 265.67 L361.85 271.32 L365.52 272.83 L369.19 265.67 L372.86 258.88 L376.53 253.61 L380.2 255.11 L383.87 256.25 L387.54 258.13 L391.21 262.65 L394.88 271.32 L398.55 282.63 L402.22 293.94 L405.89 307.14 L409.56 310.91 L413.23 313.93 L416.9 316.94 L420.57 325.24 L424.24 327.5 L427.91 327.5 L431.58 324.11 L435.25 320.9 L438.92 316.38 L442.59 311.85 L446.26 307.33 L449.93 302.43 L453.6 297.53 L457.27 293 L460.94 288.48 L464.61 283.58 L468.28 279.05 L471.95 274.53 L475.62 270.01 L479.29 266.61 L482.96 263.6 L486.63 260.2 L490.3 257.19 L493.97 256.06 L497.64 254.93 L501.31 254.17 L504.98 253.42 L508.65 252.66 L512.32 251.91 L515.99 251.16 L519.66 250.4 L523.33 249.65 L527 248.89" fill="none" stroke="#777" stroke-width="0.7" stroke-dasharray="7.7,2.6,0.6,1.8,0.6,2.2"/>
<g><path d="M341.65 261.09H345.35L343.5 257.69Z" fill="#fff" stroke="#111" stroke-width="0.65"/><path d="M345.32 258.07H349.02L347.17 254.67Z" fill="#fff" stroke="#111" stroke-width="0.65"/><path d="M348.99 255.06H352.69L350.84 251.66Z" fill="#fff" stroke="#111" stroke-width="0.65"/><path d="M352.66 258.07H356.36L354.51 254.67Z" fill="#fff" stroke="#111" stroke-width="0.65"/><path d="M356.33 267.12H360.03L358.18 263.72Z" fill="#fff" stroke="#111" stroke-width="0.65"/><path d="M360 272.77H363.7L361.85 269.38Z" fill="#fff" stroke="#111" stroke-width="0.65"/><path d="M363.67 274.28H367.37L365.52 270.88Z" fill="#fff" stroke="#111" stroke-width="0.65"/><path d="M367.34 267.12H371.04L369.19 263.72Z" fill="#fff" stroke="#111" stroke-width="0.65"/><path d="M371.01 260.33H374.71L372.86 256.93Z" fill="#fff" stroke="#111" stroke-width="0.65"/><path d="M374.68 255.06H378.38L376.53 251.66Z" fill="#fff" stroke="#111" stroke-width="0.65"/><path d="M378.35 256.56H382.05L380.2 253.16Z" fill="#fff" stroke="#111" stroke-width="0.65"/><path d="M382.02 257.69H385.72L383.87 254.3Z" fill="#fff" stroke="#111" stroke-width="0.65"/><path d="M385.69 259.58H389.39L387.54 256.18Z" fill="#fff" stroke="#111" stroke-width="0.65"/><path d="M389.36 264.1H393.06L391.21 260.7Z" fill="#fff" stroke="#111" stroke-width="0.65"/><path d="M393.03 272.77H396.73L394.88 269.38Z" fill="#fff" stroke="#111" stroke-width="0.65"/><path d="M396.7 284.08H400.4L398.55 280.69Z" fill="#fff" stroke="#111" stroke-width="0.65"/><path d="M400.37 295.39H404.07L402.22 292Z" fill="#fff" stroke="#111" stroke-width="0.65"/><path d="M404.04 308.59H407.74L405.89 305.19Z" fill="#fff" stroke="#111" stroke-width="0.65"/><path d="M407.71 312.36H411.41L409.56 308.96Z" fill="#fff" stroke="#111" stroke-width="0.65"/><path d="M411.38 315.38H415.08L413.23 311.98Z" fill="#fff" stroke="#111" stroke-width="0.65"/><path d="M415.05 318.39H418.75L416.9 314.99Z" fill="#fff" stroke="#111" stroke-width="0.65"/><path d="M418.72 326.69H422.42L420.57 323.29Z" fill="#fff" stroke="#111" stroke-width="0.65"/><path d="M422.39 328.95H426.09L424.24 325.55Z" fill="#fff" stroke="#111" stroke-width="0.65"/><path d="M426.06 328.95H429.76L427.91 325.55Z" fill="#fff" stroke="#111" stroke-width="0.65"/><path d="M429.73 325.56H433.43L431.58 322.16Z" fill="#fff" stroke="#111" stroke-width="0.65"/><path d="M433.4 322.35H437.1L435.25 318.95Z" fill="#fff" stroke="#111" stroke-width="0.65"/><path d="M437.07 317.83H440.77L438.92 314.43Z" fill="#fff" stroke="#111" stroke-width="0.65"/><path d="M440.74 313.3H444.44L442.59 309.9Z" fill="#fff" stroke="#111" stroke-width="0.65"/><path d="M444.41 308.78H448.11L446.26 305.38Z" fill="#fff" stroke="#111" stroke-width="0.65"/><path d="M448.08 303.88H451.78L449.93 300.48Z" fill="#fff" stroke="#111" stroke-width="0.65"/><path d="M451.75 298.98H455.45L453.6 295.58Z" fill="#fff" stroke="#111" stroke-width="0.65"/><path d="M455.42 294.45H459.12L457.27 291.05Z" fill="#fff" stroke="#111" stroke-width="0.65"/><path d="M459.09 289.93H462.79L460.94 286.53Z" fill="#fff" stroke="#111" stroke-width="0.65"/><path d="M462.76 285.03H466.46L464.61 281.63Z" fill="#fff" stroke="#111" stroke-width="0.65"/><path d="M466.43 280.5H470.13L468.28 277.1Z" fill="#fff" stroke="#111" stroke-width="0.65"/><path d="M470.1 275.98H473.8L471.95 272.58Z" fill="#fff" stroke="#111" stroke-width="0.65"/><path d="M473.77 271.46H477.47L475.62 268.06Z" fill="#fff" stroke="#111" stroke-width="0.65"/><path d="M477.44 268.06H481.14L479.29 264.66Z" fill="#fff" stroke="#111" stroke-width="0.65"/><path d="M481.11 265.05H484.81L482.96 261.65Z" fill="#fff" stroke="#111" stroke-width="0.65"/><path d="M484.78 261.65H488.48L486.63 258.25Z" fill="#fff" stroke="#111" stroke-width="0.65"/><path d="M488.45 258.64H492.15L490.3 255.24Z" fill="#fff" stroke="#111" stroke-width="0.65"/><path d="M492.12 257.51H495.82L493.97 254.11Z" fill="#fff" stroke="#111" stroke-width="0.65"/><path d="M495.79 256.38H499.49L497.64 252.98Z" fill="#fff" stroke="#111" stroke-width="0.65"/><path d="M499.46 255.62H503.16L501.31 252.22Z" fill="#fff" stroke="#111" stroke-width="0.65"/><path d="M503.13 254.87H506.83L504.98 251.47Z" fill="#fff" stroke="#111" stroke-width="0.65"/><path d="M506.8 254.11H510.5L508.65 250.71Z" fill="#fff" stroke="#111" stroke-width="0.65"/><path d="M510.47 253.36H514.17L512.32 249.96Z" fill="#fff" stroke="#111" stroke-width="0.65"/><path d="M514.14 252.61H517.84L515.99 249.21Z" fill="#fff" stroke="#111" stroke-width="0.65"/><path d="M517.81 251.85H521.51L519.66 248.45Z" fill="#fff" stroke="#111" stroke-width="0.65"/><path d="M521.48 251.1H525.18L523.33 247.7Z" fill="#fff" stroke="#111" stroke-width="0.65"/><path d="M525.15 250.34H528.85L527 246.94Z" fill="#fff" stroke="#111" stroke-width="0.65"/></g>
<path d="M343.5 261.52 L347.17 266.8 L350.84 276.98 L354.51 282.63 L358.18 282.63 L361.85 280.75 L365.52 271.32 L369.19 261.9 L372.86 253.61 L376.53 247.95 L380.2 251.72 L383.87 261.9 L387.54 270.95 L391.21 279.62 L394.88 286.4 L398.55 293.94 L402.22 303.37 L405.89 308.65 L409.56 309.4 L413.23 310.91 L416.9 313.93 L420.57 318.45 L424.24 322.22 L427.91 324.11 L431.58 323.35 L435.25 320.33 L438.92 315.81 L442.59 311.29 L446.26 306.76 L449.93 301.86 L453.6 296.96 L457.27 292.44 L460.94 287.91 L464.61 283.01 L468.28 278.49 L471.95 273.96 L475.62 269.44 L479.29 266.05 L482.96 263.03 L486.63 259.64 L490.3 256.62 L493.97 255.49 L497.64 254.36 L501.31 253.61 L504.98 252.85 L508.65 252.1 L512.32 251.34 L515.99 250.59 L519.66 249.84 L523.33 249.08 L527 248.33" fill="none" stroke="#777" stroke-width="0.7" stroke-dasharray="5.6,2.7"/>
<g><path d="M341.35 259.92H345.65L343.5 263.52Z"/><path d="M345.02 265.2H349.32L347.17 268.8Z"/><path d="M348.69 275.38H352.99L350.84 278.98Z"/><path d="M352.36 281.03H356.66L354.51 284.63Z"/><path d="M356.03 281.03H360.33L358.18 284.63Z"/><path d="M359.7 279.15H364L361.85 282.75Z"/><path d="M363.37 269.72H367.67L365.52 273.32Z"/><path d="M367.04 260.3H371.34L369.19 263.9Z"/><path d="M370.71 252.01H375.01L372.86 255.61Z"/><path d="M374.38 246.35H378.68L376.53 249.95Z"/><path d="M378.05 250.12H382.35L380.2 253.72Z"/><path d="M381.72 260.3H386.02L383.87 263.9Z"/><path d="M385.39 269.35H389.69L387.54 272.95Z"/><path d="M389.06 278.02H393.36L391.21 281.62Z"/><path d="M392.73 284.8H397.03L394.88 288.4Z"/><path d="M396.4 292.34H400.7L398.55 295.94Z"/><path d="M400.07 301.77H404.37L402.22 305.37Z"/><path d="M403.74 307.05H408.04L405.89 310.65Z"/><path d="M407.41 307.8H411.71L409.56 311.4Z"/><path d="M411.08 309.31H415.38L413.23 312.91Z"/><path d="M414.75 312.33H419.05L416.9 315.93Z"/><path d="M418.42 316.85H422.72L420.57 320.45Z"/><path d="M422.09 320.62H426.39L424.24 324.22Z"/><path d="M425.76 322.5H430.06L427.91 326.11Z"/><path d="M429.43 321.75H433.73L431.58 325.35Z"/><path d="M433.1 318.73H437.4L435.25 322.33Z"/><path d="M436.77 314.21H441.07L438.92 317.81Z"/><path d="M440.44 309.69H444.74L442.59 313.29Z"/><path d="M444.11 305.16H448.41L446.26 308.76Z"/><path d="M447.78 300.26H452.08L449.93 303.86Z"/><path d="M451.45 295.36H455.75L453.6 298.96Z"/><path d="M455.12 290.84H459.42L457.27 294.44Z"/><path d="M458.79 286.31H463.09L460.94 289.91Z"/><path d="M462.46 281.41H466.76L464.61 285.01Z"/><path d="M466.13 276.89H470.43L468.28 280.49Z"/><path d="M469.8 272.36H474.1L471.95 275.96Z"/><path d="M473.47 267.84H477.77L475.62 271.44Z"/><path d="M477.14 264.45H481.44L479.29 268.05Z"/><path d="M480.81 261.43H485.11L482.96 265.03Z"/><path d="M484.48 258.04H488.78L486.63 261.64Z"/><path d="M488.15 255.02H492.45L490.3 258.62Z"/><path d="M491.82 253.89H496.12L493.97 257.49Z"/><path d="M495.49 252.76H499.79L497.64 256.36Z"/><path d="M499.16 252.01H503.46L501.31 255.61Z"/><path d="M502.83 251.25H507.13L504.98 254.85Z"/><path d="M506.5 250.5H510.8L508.65 254.1Z"/><path d="M510.17 249.74H514.47L512.32 253.34Z"/><path d="M513.84 248.99H518.14L515.99 252.59Z"/><path d="M517.51 248.24H521.81L519.66 251.84Z"/><path d="M521.18 247.48H525.48L523.33 251.08Z"/><path d="M524.85 246.73H529.15L527 250.33Z"/></g>
<path d="M343.5 240.79 L347.17 235.13 L350.84 236.26 L354.51 243.05 L358.18 248.7 L361.85 249.84 L365.52 242.3 L369.19 236.64 L372.86 235.51 L376.53 240.79 L380.2 252.47 L383.87 258.13 L387.54 260.01 L391.21 262.28 L394.88 273.21 L398.55 284.52 L402.22 295.83 L405.89 307.14 L409.56 320.33 L413.23 331.64 L416.9 339.94 L420.57 344.84 L424.24 341.07 L427.91 334.66 L431.58 325.24 L435.25 319.2 L438.92 313.17 L442.59 307.14 L446.26 301.11 L449.93 295.08 L453.6 290.18 L457.27 284.52 L460.94 279.62 L464.61 274.72 L468.28 270.19 L471.95 266.05 L475.62 261.9 L479.29 258.51 L482.96 255.49 L486.63 252.85 L490.3 250.97 L493.97 249.84 L497.64 249.08 L501.31 248.58 L504.98 248.08 L508.65 247.57 L512.32 247.12 L515.99 246.67 L519.66 246.22 L523.33 245.76 L527 245.31" fill="none" stroke="#777" stroke-width="0.7" stroke-dasharray="0.8,0.9"/>
<g><circle cx="343.5" cy="240.79" r="1.45" fill="#fff" stroke="#111" stroke-width="0.7"/><circle cx="347.17" cy="235.13" r="1.45" fill="#fff" stroke="#111" stroke-width="0.7"/><circle cx="350.84" cy="236.26" r="1.45" fill="#fff" stroke="#111" stroke-width="0.7"/><circle cx="354.51" cy="243.05" r="1.45" fill="#fff" stroke="#111" stroke-width="0.7"/><circle cx="358.18" cy="248.7" r="1.45" fill="#fff" stroke="#111" stroke-width="0.7"/><circle cx="361.85" cy="249.84" r="1.45" fill="#fff" stroke="#111" stroke-width="0.7"/><circle cx="365.52" cy="242.3" r="1.45" fill="#fff" stroke="#111" stroke-width="0.7"/><circle cx="369.19" cy="236.64" r="1.45" fill="#fff" stroke="#111" stroke-width="0.7"/><circle cx="372.86" cy="235.51" r="1.45" fill="#fff" stroke="#111" stroke-width="0.7"/><circle cx="376.53" cy="240.79" r="1.45" fill="#fff" stroke="#111" stroke-width="0.7"/><circle cx="380.2" cy="252.47" r="1.45" fill="#fff" stroke="#111" stroke-width="0.7"/><circle cx="383.87" cy="258.13" r="1.45" fill="#fff" stroke="#111" stroke-width="0.7"/><circle cx="387.54" cy="260.01" r="1.45" fill="#fff" stroke="#111" stroke-width="0.7"/><circle cx="391.21" cy="262.28" r="1.45" fill="#fff" stroke="#111" stroke-width="0.7"/><circle cx="394.88" cy="273.21" r="1.45" fill="#fff" stroke="#111" stroke-width="0.7"/><circle cx="398.55" cy="284.52" r="1.45" fill="#fff" stroke="#111" stroke-width="0.7"/><circle cx="402.22" cy="295.83" r="1.45" fill="#fff" stroke="#111" stroke-width="0.7"/><circle cx="405.89" cy="307.14" r="1.45" fill="#fff" stroke="#111" stroke-width="0.7"/><circle cx="409.56" cy="320.33" r="1.45" fill="#fff" stroke="#111" stroke-width="0.7"/><circle cx="413.23" cy="331.64" r="1.45" fill="#fff" stroke="#111" stroke-width="0.7"/><circle cx="416.9" cy="339.94" r="1.45" fill="#fff" stroke="#111" stroke-width="0.7"/><circle cx="420.57" cy="344.84" r="1.45" fill="#fff" stroke="#111" stroke-width="0.7"/><circle cx="424.24" cy="341.07" r="1.45" fill="#fff" stroke="#111" stroke-width="0.7"/><circle cx="427.91" cy="334.66" r="1.45" fill="#fff" stroke="#111" stroke-width="0.7"/><circle cx="431.58" cy="325.24" r="1.45" fill="#fff" stroke="#111" stroke-width="0.7"/><circle cx="435.25" cy="319.2" r="1.45" fill="#fff" stroke="#111" stroke-width="0.7"/><circle cx="438.92" cy="313.17" r="1.45" fill="#fff" stroke="#111" stroke-width="0.7"/><circle cx="442.59" cy="307.14" r="1.45" fill="#fff" stroke="#111" stroke-width="0.7"/><circle cx="446.26" cy="301.11" r="1.45" fill="#fff" stroke="#111" stroke-width="0.7"/><circle cx="449.93" cy="295.08" r="1.45" fill="#fff" stroke="#111" stroke-width="0.7"/><circle cx="453.6" cy="290.18" r="1.45" fill="#fff" stroke="#111" stroke-width="0.7"/><circle cx="457.27" cy="284.52" r="1.45" fill="#fff" stroke="#111" stroke-width="0.7"/><circle cx="460.94" cy="279.62" r="1.45" fill="#fff" stroke="#111" stroke-width="0.7"/><circle cx="464.61" cy="274.72" r="1.45" fill="#fff" stroke="#111" stroke-width="0.7"/><circle cx="468.28" cy="270.19" r="1.45" fill="#fff" stroke="#111" stroke-width="0.7"/><circle cx="471.95" cy="266.05" r="1.45" fill="#fff" stroke="#111" stroke-width="0.7"/><circle cx="475.62" cy="261.9" r="1.45" fill="#fff" stroke="#111" stroke-width="0.7"/><circle cx="479.29" cy="258.51" r="1.45" fill="#fff" stroke="#111" stroke-width="0.7"/><circle cx="482.96" cy="255.49" r="1.45" fill="#fff" stroke="#111" stroke-width="0.7"/><circle cx="486.63" cy="252.85" r="1.45" fill="#fff" stroke="#111" stroke-width="0.7"/><circle cx="490.3" cy="250.97" r="1.45" fill="#fff" stroke="#111" stroke-width="0.7"/><circle cx="493.97" cy="249.84" r="1.45" fill="#fff" stroke="#111" stroke-width="0.7"/><circle cx="497.64" cy="249.08" r="1.45" fill="#fff" stroke="#111" stroke-width="0.7"/><circle cx="501.31" cy="248.58" r="1.45" fill="#fff" stroke="#111" stroke-width="0.7"/><circle cx="504.98" cy="248.08" r="1.45" fill="#fff" stroke="#111" stroke-width="0.7"/><circle cx="508.65" cy="247.57" r="1.45" fill="#fff" stroke="#111" stroke-width="0.7"/><circle cx="512.32" cy="247.12" r="1.45" fill="#fff" stroke="#111" stroke-width="0.7"/><circle cx="515.99" cy="246.67" r="1.45" fill="#fff" stroke="#111" stroke-width="0.7"/><circle cx="519.66" cy="246.22" r="1.45" fill="#fff" stroke="#111" stroke-width="0.7"/><circle cx="523.33" cy="245.76" r="1.45" fill="#fff" stroke="#111" stroke-width="0.7"/><circle cx="527" cy="245.31" r="1.45" fill="#fff" stroke="#111" stroke-width="0.7"/></g>
<path d="M343.5 238.15 L347.17 232.87 L350.84 233.62 L354.51 240.41 L358.18 247.57 L361.85 255.11 L365.52 256.25 L369.19 254.74 L372.86 252.47 L376.53 253.61 L380.2 255.49 L383.87 253.98 L387.54 249.84 L391.21 247.95 L394.88 259.64 L398.55 281.13 L402.22 304.12 L405.89 324.11 L409.56 342.2 L413.23 355.4 L416.9 364.44 L420.57 364.44 L424.24 356.15 L427.91 345.22 L431.58 332.78 L435.25 321.09 L438.92 310.53 L442.59 301.11 L446.26 292.44 L449.93 285.27 L453.6 278.87 L457.27 272.46 L460.94 266.42 L464.61 261.15 L468.28 257 L471.95 253.61 L475.62 249.84 L479.29 247.2 L482.96 244.94 L486.63 243.05 L490.3 241.54 L493.97 241.16 L497.64 240.98 L501.31 240.79 L504.98 240.6 L508.65 240.41 L512.32 240.26 L515.99 240.11 L519.66 239.96 L523.33 239.81 L527 239.66" fill="none" stroke="#777" stroke-width="0.7"/>
<g><circle cx="343.5" cy="238.15" r="1.6"/><circle cx="347.17" cy="232.87" r="1.6"/><circle cx="350.84" cy="233.62" r="1.6"/><circle cx="354.51" cy="240.41" r="1.6"/><circle cx="358.18" cy="247.57" r="1.6"/><circle cx="361.85" cy="255.11" r="1.6"/><circle cx="365.52" cy="256.25" r="1.6"/><circle cx="369.19" cy="254.74" r="1.6"/><circle cx="372.86" cy="252.47" r="1.6"/><circle cx="376.53" cy="253.61" r="1.6"/><circle cx="380.2" cy="255.49" r="1.6"/><circle cx="383.87" cy="253.98" r="1.6"/><circle cx="387.54" cy="249.84" r="1.6"/><circle cx="391.21" cy="247.95" r="1.6"/><circle cx="394.88" cy="259.64" r="1.6"/><circle cx="398.55" cy="281.13" r="1.6"/><circle cx="402.22" cy="304.12" r="1.6"/><circle cx="405.89" cy="324.11" r="1.6"/><circle cx="409.56" cy="342.2" r="1.6"/><circle cx="413.23" cy="355.4" r="1.6"/><circle cx="416.9" cy="364.44" r="1.6"/><circle cx="420.57" cy="364.44" r="1.6"/><circle cx="424.24" cy="356.15" r="1.6"/><circle cx="427.91" cy="345.22" r="1.6"/><circle cx="431.58" cy="332.78" r="1.6"/><circle cx="435.25" cy="321.09" r="1.6"/><circle cx="438.92" cy="310.53" r="1.6"/><circle cx="442.59" cy="301.11" r="1.6"/><circle cx="446.26" cy="292.44" r="1.6"/><circle cx="449.93" cy="285.27" r="1.6"/><circle cx="453.6" cy="278.87" r="1.6"/><circle cx="457.27" cy="272.46" r="1.6"/><circle cx="460.94" cy="266.42" r="1.6"/><circle cx="464.61" cy="261.15" r="1.6"/><circle cx="468.28" cy="257" r="1.6"/><circle cx="471.95" cy="253.61" r="1.6"/><circle cx="475.62" cy="249.84" r="1.6"/><circle cx="479.29" cy="247.2" r="1.6"/><circle cx="482.96" cy="244.94" r="1.6"/><circle cx="486.63" cy="243.05" r="1.6"/><circle cx="490.3" cy="241.54" r="1.6"/><circle cx="493.97" cy="241.16" r="1.6"/><circle cx="497.64" cy="240.98" r="1.6"/><circle cx="501.31" cy="240.79" r="1.6"/><circle cx="504.98" cy="240.6" r="1.6"/><circle cx="508.65" cy="240.41" r="1.6"/><circle cx="512.32" cy="240.26" r="1.6"/><circle cx="515.99" cy="240.11" r="1.6"/><circle cx="519.66" cy="239.96" r="1.6"/><circle cx="523.33" cy="239.81" r="1.6"/><circle cx="527" cy="239.66" r="1.6"/></g>
<rect x="343.5" y="224.2" width="201.5" height="150.8" fill="none" stroke="#a6a6a6" stroke-width="1"/>
<line x1="466.4" y1="309.2" x2="514.5" y2="309.2" stroke="#666" stroke-width="0.9"/>
<circle cx="489.7" cy="309.2" r="1.6"/>
<text x="515.5" y="313.8" class="lg">40°C</text>
<line x1="466.4" y1="322.3" x2="514.5" y2="322.3" stroke="#999" stroke-width="0.9" stroke-dasharray="0.8,0.9"/>
<circle cx="489.7" cy="322.3" r="1.45" fill="#fff" stroke="#111" stroke-width="0.7"/>
<text x="515.5" y="326.9" class="lg">50°C</text>
<line x1="466.4" y1="335.4" x2="514.5" y2="335.4" stroke="#666" stroke-width="0.9" stroke-dasharray="5.6,2.7"/>
<path d="M487.55 333.8H491.85L489.7 337.4Z"/>
<text x="515.5" y="340" class="lg">60°C</text>
<line x1="466.4" y1="348.6" x2="514.5" y2="348.6" stroke="#666" stroke-width="0.9" stroke-dasharray="7.7,2.6,0.6,1.8,0.6,2.2"/>
<path d="M487.85 350.05H491.55L489.7 346.65Z" fill="#fff" stroke="#111" stroke-width="0.65"/>
<text x="515.5" y="353.2" class="lg">70°C</text>
<line x1="466.4" y1="361.5" x2="514.5" y2="361.5" stroke="#666" stroke-width="0.9" stroke-dasharray="11.8,4.1"/>
<rect x="487.95" y="359.8" width="3.5" height="3.4"/>
<text x="515.5" y="366.1" class="lg">80°C</text>
<text x="349.5" y="363.7" class="lb">TG-tag4</text>
<text x="449.8" y="418.5" class="ax" text-anchor="middle">Wavelength (nm)</text>
<text transform="translate(306.6,348.6) rotate(-90)" class="ay2">Ellipticity (mdeg)</text>
</svg>
</body></html>
